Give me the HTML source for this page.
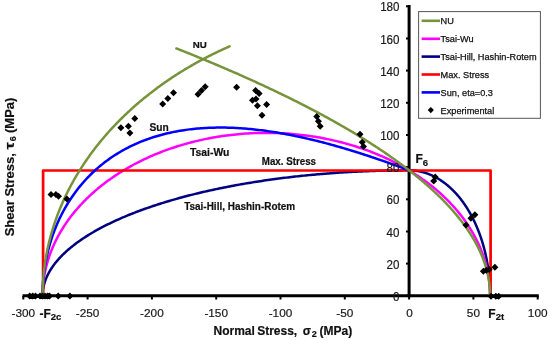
<!DOCTYPE html>
<html><head><meta charset="utf-8"><style>
html,body{margin:0;padding:0;background:#fff;}
body{width:550px;height:340px;overflow:hidden;}
svg{display:block;}
text{font-family:"Liberation Sans",Arial,sans-serif;}
</style></head><body>
<svg width="550" height="340" viewBox="0 0 550 340">
<rect width="550" height="340" fill="#fff"/>
<g stroke="#000" stroke-width="3" fill="none">
<line x1="409.1" y1="5" x2="409.1" y2="297.3"/>
<line x1="22.5" y1="295.8" x2="538.8" y2="295.8"/>
</g>
<g stroke="#000" stroke-width="2"><line x1="406" y1="295.8" x2="409" y2="295.8"/><line x1="406" y1="263.6" x2="409" y2="263.6"/><line x1="406" y1="231.5" x2="409" y2="231.5"/><line x1="406" y1="199.3" x2="409" y2="199.3"/><line x1="406" y1="167.1" x2="409" y2="167.1"/><line x1="406" y1="135.0" x2="409" y2="135.0"/><line x1="406" y1="102.8" x2="409" y2="102.8"/><line x1="406" y1="70.6" x2="409" y2="70.6"/><line x1="406" y1="38.5" x2="409" y2="38.5"/><line x1="406" y1="6.3" x2="409" y2="6.3"/><line x1="23.3" y1="296" x2="23.3" y2="299.5"/><line x1="87.6" y1="296" x2="87.6" y2="299.5"/><line x1="151.9" y1="296" x2="151.9" y2="299.5"/><line x1="216.2" y1="296" x2="216.2" y2="299.5"/><line x1="280.5" y1="296" x2="280.5" y2="299.5"/><line x1="344.8" y1="296" x2="344.8" y2="299.5"/><line x1="409.1" y1="296" x2="409.1" y2="299.5"/><line x1="473.4" y1="296" x2="473.4" y2="299.5"/><line x1="537.7" y1="296" x2="537.7" y2="299.5"/></g>
<g fill="none" stroke-linejoin="round" stroke-linecap="round">
<path d="M42.59,295.80 L42.60,294.87 L42.63,293.94 L42.68,293.01 L42.75,292.09 L42.84,291.16 L42.95,290.23 L43.08,289.30 L43.23,288.37 L43.40,287.45 L43.59,286.52 L43.80,285.60 L44.04,284.67 L44.29,283.75 L44.56,282.82 L44.85,281.90 L45.16,280.98 L45.49,280.06 L45.84,279.14 L46.21,278.22 L46.59,277.31 L47.00,276.39 L47.43,275.48 L47.88,274.56 L48.35,273.65 L48.83,272.74 L49.34,271.83 L49.87,270.93 L50.41,270.02 L50.98,269.12 L51.56,268.22 L52.16,267.32 L52.78,266.42 L53.42,265.52 L54.08,264.63 L54.76,263.74 L55.46,262.85 L56.17,261.96 L56.91,261.08 L57.66,260.20 L58.43,259.32 L59.22,258.44 L60.03,257.56 L60.86,256.69 L61.70,255.82 L62.56,254.95 L63.44,254.09 L64.34,253.23 L65.26,252.37 L66.19,251.51 L67.14,250.66 L68.11,249.81 L69.10,248.96 L70.10,248.12 L71.12,247.28 L72.15,246.44 L73.21,245.61 L74.28,244.77 L75.37,243.95 L76.47,243.12 L77.59,242.30 L78.72,241.49 L79.88,240.67 L81.05,239.86 L82.23,239.06 L83.43,238.25 L84.64,237.45 L85.88,236.66 L87.12,235.87 L88.38,235.08 L89.66,234.30 L90.95,233.52 L92.26,232.74 L93.58,231.97 L94.91,231.20 L96.26,230.44 L97.63,229.68 L99.01,228.93 L100.40,228.18 L101.80,227.43 L103.22,226.69 L104.66,225.95 L106.10,225.22 L107.56,224.49 L109.03,223.77 L110.52,223.05 L112.02,222.33 L113.53,221.62 L115.05,220.92 L116.58,220.22 L118.13,219.52 L119.69,218.83 L121.26,218.14 L122.84,217.46 L124.43,216.78 L126.04,216.11 L127.65,215.44 L129.28,214.78 L130.91,214.12 L132.56,213.47 L134.22,212.82 L135.88,212.18 L137.56,211.54 L139.25,210.91 L140.94,210.28 L142.65,209.66 L144.36,209.05 L146.09,208.43 L147.82,207.83 L149.56,207.23 L151.31,206.63 L153.07,206.04 L154.83,205.45 L156.60,204.87 L158.38,204.30 L160.17,203.73 L161.97,203.16 L163.77,202.60 L165.58,202.05 L167.39,201.50 L169.22,200.95 L171.04,200.42 L172.88,199.88 L174.72,199.36 L176.56,198.83 L178.42,198.32 L180.27,197.81 L182.13,197.30 L184.00,196.80 L185.87,196.31 L187.74,195.82 L189.62,195.33 L191.51,194.85 L193.39,194.38 L195.28,193.91 L197.18,193.45 L199.07,192.99 L200.97,192.54 L202.88,192.09 L204.78,191.65 L206.69,191.22 L208.60,190.79 L210.51,190.36 L212.42,189.94 L214.34,189.53 L216.25,189.12 L218.17,188.72 L220.09,188.32 L222.01,187.93 L223.93,187.54 L225.84,187.16 L227.76,186.78 L229.68,186.41 L231.60,186.05 L233.52,185.68 L235.44,185.33 L237.35,184.98 L239.27,184.63 L241.18,184.29 L243.09,183.96 L245.00,183.63 L246.91,183.30 L248.81,182.99 L250.72,182.67 L252.62,182.36 L254.51,182.06 L256.41,181.76 L258.30,181.46 L260.18,181.17 L262.07,180.89 L263.95,180.61 L265.82,180.34 L267.69,180.07 L269.56,179.80 L271.42,179.54 L273.27,179.28 L275.13,179.03 L276.97,178.79 L278.81,178.55 L280.65,178.31 L282.47,178.08 L284.30,177.85 L286.11,177.63 L287.92,177.41 L289.72,177.19 L291.52,176.98 L293.31,176.78 L295.09,176.58 L296.86,176.38 L298.62,176.19 L300.38,176.00 L302.13,175.81 L303.87,175.63 L305.60,175.46 L307.33,175.29 L309.04,175.12 L310.75,174.95 L312.44,174.79 L314.13,174.64 L315.81,174.48 L317.47,174.34 L319.13,174.19 L320.78,174.05 L322.41,173.91 L324.04,173.78 L325.65,173.65 L327.26,173.52 L328.85,173.40 L330.43,173.28 L332.00,173.16 L333.56,173.05 L335.11,172.94 L336.64,172.83 L338.16,172.72 L339.67,172.62 L341.17,172.53 L342.66,172.43 L344.13,172.34 L345.59,172.25 L347.03,172.16 L348.47,172.08 L349.89,172.00 L351.29,171.92 L352.68,171.85 L354.06,171.78 L355.43,171.71 L356.78,171.64 L358.11,171.57 L359.43,171.51 L360.74,171.45 L362.03,171.39 L363.31,171.34 L364.57,171.28 L365.81,171.23 L367.05,171.18 L368.26,171.13 L369.46,171.09 L370.64,171.05 L371.81,171.00 L372.97,170.96 L374.10,170.93 L375.22,170.89 L376.32,170.86 L377.41,170.82 L378.48,170.79 L379.54,170.76 L380.57,170.73 L381.59,170.71 L382.59,170.68 L383.58,170.66 L384.55,170.63 L385.50,170.61 L386.43,170.59 L387.35,170.57 L388.25,170.56 L389.13,170.54 L389.99,170.52 L390.83,170.51 L391.66,170.49 L392.47,170.48 L393.26,170.47 L394.03,170.46 L394.78,170.45 L395.52,170.44 L396.23,170.43 L396.93,170.42 L397.61,170.41 L398.27,170.41 L398.91,170.40 L399.53,170.40 L400.13,170.39 L400.71,170.39 L401.28,170.38 L401.82,170.38 L402.35,170.37 L402.86,170.37 L403.34,170.37 L403.81,170.37 L404.26,170.36 L404.69,170.36 L405.10,170.36 L405.48,170.36 L405.85,170.36 L406.20,170.36 L406.53,170.36 L406.84,170.35 L407.13,170.35 L407.40,170.35 L407.65,170.35 L407.89,170.35 L408.10,170.35 L408.29,170.35 L408.46,170.35 L408.61,170.35 L408.74,170.35 L408.85,170.35 L408.94,170.35 L409.01,170.35 L409.06,170.35 L409.09,170.35 L409.10,170.35 L409.10,170.35 L409.11,170.35 L409.12,170.35 L409.14,170.35 L409.16,170.35 L409.18,170.35 L409.21,170.35 L409.24,170.35 L409.28,170.35 L409.32,170.35 L409.37,170.35 L409.42,170.35 L409.47,170.35 L409.53,170.35 L409.60,170.35 L409.67,170.36 L409.74,170.36 L409.82,170.36 L409.90,170.36 L409.99,170.36 L410.08,170.36 L410.17,170.36 L410.27,170.37 L410.37,170.37 L410.48,170.37 L410.59,170.37 L410.71,170.38 L410.83,170.38 L410.95,170.39 L411.08,170.39 L411.22,170.40 L411.35,170.40 L411.49,170.41 L411.64,170.41 L411.79,170.42 L411.94,170.43 L412.10,170.44 L412.27,170.45 L412.43,170.46 L412.60,170.47 L412.78,170.48 L412.96,170.49 L413.14,170.51 L413.32,170.52 L413.52,170.54 L413.71,170.56 L413.91,170.57 L414.11,170.59 L414.32,170.61 L414.53,170.63 L414.74,170.66 L414.96,170.68 L415.18,170.71 L415.41,170.73 L415.64,170.76 L415.87,170.79 L416.10,170.82 L416.35,170.86 L416.59,170.89 L416.84,170.93 L417.09,170.96 L417.34,171.00 L417.60,171.05 L417.86,171.09 L418.13,171.13 L418.40,171.18 L418.67,171.23 L418.94,171.28 L419.22,171.34 L419.50,171.39 L419.79,171.45 L420.08,171.51 L420.37,171.57 L420.67,171.64 L420.96,171.71 L421.27,171.78 L421.57,171.85 L421.88,171.92 L422.19,172.00 L422.50,172.08 L422.82,172.16 L423.14,172.25 L423.46,172.34 L423.79,172.43 L424.12,172.53 L424.45,172.62 L424.78,172.72 L425.12,172.83 L425.46,172.94 L425.80,173.05 L426.14,173.16 L426.49,173.28 L426.84,173.40 L427.19,173.52 L427.55,173.65 L427.90,173.78 L428.26,173.91 L428.62,174.05 L428.99,174.19 L429.35,174.34 L429.72,174.48 L430.09,174.64 L430.47,174.79 L430.84,174.95 L431.22,175.12 L431.60,175.29 L431.98,175.46 L432.36,175.63 L432.75,175.81 L433.13,176.00 L433.52,176.19 L433.91,176.38 L434.30,176.58 L434.70,176.78 L435.09,176.98 L435.49,177.19 L435.89,177.41 L436.29,177.63 L436.69,177.85 L437.09,178.08 L437.50,178.31 L437.90,178.55 L438.31,178.79 L438.72,179.03 L439.12,179.28 L439.53,179.54 L439.95,179.80 L440.36,180.07 L440.77,180.34 L441.19,180.61 L441.60,180.89 L442.02,181.17 L442.44,181.46 L442.85,181.76 L443.27,182.06 L443.69,182.36 L444.11,182.67 L444.53,182.99 L444.95,183.30 L445.37,183.63 L445.80,183.96 L446.22,184.29 L446.64,184.63 L447.07,184.98 L447.49,185.33 L447.91,185.68 L448.34,186.05 L448.76,186.41 L449.18,186.78 L449.61,187.16 L450.03,187.54 L450.46,187.93 L450.88,188.32 L451.31,188.72 L451.73,189.12 L452.15,189.53 L452.58,189.94 L453.00,190.36 L453.42,190.79 L453.84,191.22 L454.26,191.65 L454.69,192.09 L455.11,192.54 L455.53,192.99 L455.95,193.45 L456.36,193.91 L456.78,194.38 L457.20,194.85 L457.62,195.33 L458.03,195.82 L458.45,196.31 L458.86,196.80 L459.27,197.30 L459.68,197.81 L460.09,198.32 L460.50,198.83 L460.91,199.36 L461.32,199.88 L461.72,200.42 L462.13,200.95 L462.53,201.50 L462.93,202.05 L463.33,202.60 L463.73,203.16 L464.13,203.73 L464.52,204.30 L464.91,204.87 L465.31,205.45 L465.70,206.04 L466.09,206.63 L466.47,207.23 L466.86,207.83 L467.24,208.43 L467.62,209.05 L468.00,209.66 L468.38,210.28 L468.75,210.91 L469.12,211.54 L469.50,212.18 L469.86,212.82 L470.23,213.47 L470.59,214.12 L470.96,214.78 L471.31,215.44 L471.67,216.11 L472.03,216.78 L472.38,217.46 L472.73,218.14 L473.08,218.83 L473.42,219.52 L473.76,220.22 L474.10,220.92 L474.44,221.62 L474.77,222.33 L475.10,223.05 L475.43,223.77 L475.76,224.49 L476.08,225.22 L476.40,225.95 L476.71,226.69 L477.03,227.43 L477.34,228.18 L477.65,228.93 L477.95,229.68 L478.25,230.44 L478.55,231.20 L478.85,231.97 L479.14,232.74 L479.43,233.52 L479.71,234.30 L480.00,235.08 L480.27,235.87 L480.55,236.66 L480.82,237.45 L481.09,238.25 L481.36,239.06 L481.62,239.86 L481.88,240.67 L482.13,241.49 L482.38,242.30 L482.63,243.12 L482.87,243.95 L483.11,244.77 L483.35,245.61 L483.58,246.44 L483.81,247.28 L484.04,248.12 L484.26,248.96 L484.48,249.81 L484.69,250.66 L484.90,251.51 L485.11,252.37 L485.31,253.23 L485.51,254.09 L485.70,254.95 L485.89,255.82 L486.08,256.69 L486.26,257.56 L486.44,258.44 L486.62,259.32 L486.79,260.20 L486.95,261.08 L487.12,261.96 L487.27,262.85 L487.43,263.74 L487.58,264.63 L487.72,265.52 L487.86,266.42 L488.00,267.32 L488.14,268.22 L488.26,269.12 L488.39,270.02 L488.51,270.93 L488.63,271.83 L488.74,272.74 L488.85,273.65 L488.95,274.56 L489.05,275.48 L489.14,276.39 L489.23,277.31 L489.32,278.22 L489.40,279.14 L489.48,280.06 L489.55,280.98 L489.62,281.90 L489.68,282.82 L489.74,283.75 L489.80,284.67 L489.85,285.60 L489.90,286.52 L489.94,287.45 L489.98,288.37 L490.01,289.30 L490.04,290.23 L490.06,291.16 L490.08,292.09 L490.10,293.01 L490.11,293.94 L490.12,294.87 L490.12,295.80" stroke="#000080" stroke-width="2.5"/>
<path d="M42.59,294.87 L42.61,293.86 L42.64,292.26 L42.70,290.60 L42.79,288.92 L42.90,287.22 L43.04,285.53 L43.19,283.83 L43.38,282.14 L43.59,280.44 L43.82,278.75 L44.08,277.05 L44.36,275.36 L44.66,273.67 L44.99,271.99 L45.35,270.30 L45.73,268.62 L46.13,266.94 L46.56,265.26 L47.01,263.59 L47.48,261.92 L47.98,260.25 L48.51,258.59 L49.05,256.93 L49.62,255.28 L50.22,253.63 L50.84,251.98 L51.48,250.34 L52.14,248.71 L52.83,247.08 L53.55,245.45 L54.28,243.83 L55.04,242.22 L55.82,240.61 L56.63,239.01 L57.46,237.42 L58.31,235.83 L59.18,234.24 L60.08,232.67 L61.00,231.10 L61.94,229.54 L62.90,227.98 L63.89,226.44 L64.90,224.90 L65.93,223.36 L66.98,221.84 L68.06,220.32 L69.15,218.82 L70.27,217.32 L71.41,215.83 L72.57,214.35 L73.75,212.87 L74.96,211.41 L76.18,209.96 L77.43,208.51 L78.69,207.08 L79.98,205.65 L81.29,204.23 L82.61,202.83 L83.96,201.43 L85.33,200.05 L86.72,198.67 L88.12,197.31 L89.55,195.96 L90.99,194.61 L92.46,193.28 L93.94,191.96 L95.45,190.65 L96.97,189.36 L98.51,188.07 L100.07,186.80 L101.65,185.54 L103.24,184.29 L104.85,183.05 L106.48,181.82 L108.13,180.61 L109.80,179.41 L111.48,178.22 L113.18,177.05 L114.90,175.89 L116.63,174.74 L118.38,173.61 L120.14,172.48 L121.93,171.38 L123.72,170.28 L125.54,169.20 L127.37,168.14 L129.21,167.08 L131.07,166.04 L132.94,165.02 L134.83,164.01 L136.73,163.02 L138.65,162.03 L140.58,161.07 L142.53,160.12 L144.49,159.18 L146.46,158.26 L148.44,157.35 L150.44,156.46 L152.45,155.58 L154.47,154.72 L156.51,153.88 L158.56,153.05 L160.62,152.24 L162.69,151.44 L164.77,150.66 L166.86,149.89 L168.97,149.14 L171.08,148.40 L173.21,147.69 L175.34,146.98 L177.49,146.30 L179.64,145.63 L181.81,144.98 L183.98,144.34 L186.17,143.72 L188.36,143.12 L190.56,142.53 L192.77,141.96 L194.98,141.41 L197.21,140.87 L199.44,140.35 L201.68,139.85 L203.93,139.37 L206.18,138.90 L208.44,138.45 L210.71,138.02 L212.98,137.60 L215.26,137.20 L217.54,136.82 L219.83,136.46 L222.13,136.11 L224.43,135.79 L226.73,135.48 L229.04,135.18 L231.35,134.91 L233.67,134.65 L235.99,134.41 L238.31,134.19 L240.64,133.98 L242.97,133.79 L245.30,133.62 L247.63,133.47 L249.97,133.34 L252.31,133.22 L254.64,133.12 L256.99,133.04 L259.33,132.98 L261.67,132.94 L264.01,132.91 L266.36,132.90 L268.70,132.91 L271.04,132.94 L273.38,132.98 L275.73,133.04 L278.07,133.12 L280.41,133.22 L282.74,133.34 L285.08,133.47 L287.41,133.62 L289.74,133.79 L292.07,133.98 L294.40,134.19 L296.72,134.41 L299.04,134.65 L301.36,134.91 L303.67,135.18 L305.98,135.48 L308.28,135.79 L310.58,136.12 L312.88,136.46 L315.17,136.82 L317.45,137.21 L319.73,137.60 L322.00,138.02 L324.27,138.45 L326.53,138.90 L328.78,139.37 L331.03,139.85 L333.27,140.36 L335.50,140.87 L337.73,141.41 L339.94,141.96 L342.15,142.53 L344.35,143.12 L346.54,143.72 L348.73,144.34 L350.90,144.98 L353.07,145.63 L355.22,146.30 L357.37,146.98 L359.50,147.69 L361.63,148.40 L363.74,149.14 L365.85,149.89 L367.94,150.66 L370.02,151.44 L372.09,152.24 L374.15,153.05 L376.20,153.88 L378.24,154.73 L380.26,155.59 L382.27,156.46 L384.27,157.35 L386.25,158.26 L388.22,159.18 L390.18,160.12 L392.13,161.07 L394.06,162.04 L395.98,163.02 L397.88,164.01 L399.77,165.02 L401.64,166.05 L403.50,167.08 L405.34,168.14 L407.17,169.20 L408.99,170.28 L410.78,171.38 L412.57,172.49 L414.33,173.61 L416.08,174.74 L417.81,175.89 L419.53,177.05 L421.23,178.23 L422.91,179.41 L424.58,180.61 L426.23,181.83 L427.86,183.05 L429.47,184.29 L431.07,185.54 L432.64,186.80 L434.20,188.07 L435.74,189.36 L437.26,190.66 L438.77,191.96 L440.25,193.28 L441.72,194.62 L443.16,195.96 L444.59,197.31 L446.00,198.68 L447.38,200.05 L448.75,201.44 L450.10,202.83 L451.42,204.24 L452.73,205.65 L454.02,207.08 L455.28,208.51 L456.53,209.96 L457.75,211.41 L458.96,212.88 L460.14,214.35 L461.30,215.83 L462.44,217.32 L463.56,218.82 L464.65,220.33 L465.73,221.84 L466.78,223.37 L467.81,224.90 L468.82,226.44 L469.81,227.99 L470.77,229.54 L471.71,231.10 L472.63,232.67 L473.53,234.25 L474.40,235.83 L475.26,237.42 L476.08,239.02 L476.89,240.62 L477.67,242.23 L478.43,243.84 L479.17,245.46 L479.88,247.08 L480.57,248.72 L481.23,250.35 L481.87,251.99 L482.49,253.64 L483.09,255.29 L483.66,256.94 L484.21,258.60 L484.73,260.26 L485.23,261.93 L485.70,263.60 L486.15,265.27 L486.58,266.95 L486.98,268.63 L487.36,270.31 L487.72,272.00 L488.05,273.69 L488.35,275.38 L488.63,277.07 L488.89,278.77 L489.12,280.46 L489.33,282.16 L489.52,283.86 L489.68,285.56 L489.81,287.26 L489.92,288.96 L490.01,290.66 L490.07,292.36 L490.10,294.04 L490.12,295.36" stroke="#FF00FF" stroke-width="2.5"/>
<path d="M43.1,296 L43.1,170.5 L490.6,170.5 L490.6,296" stroke="#FF0000" stroke-width="2.7" stroke-linecap="butt"/>
<path d="M42.59,295.80 L42.60,293.85 L42.63,291.91 L42.68,289.96 L42.75,288.01 L42.84,286.07 L42.95,284.13 L43.08,282.19 L43.23,280.25 L43.40,278.31 L43.59,276.38 L43.80,274.45 L44.04,272.52 L44.29,270.60 L44.56,268.68 L44.85,266.76 L45.16,264.85 L45.49,262.94 L45.84,261.04 L46.21,259.15 L46.59,257.26 L47.00,255.37 L47.43,253.49 L47.88,251.62 L48.35,249.76 L48.83,247.90 L49.34,246.05 L49.87,244.20 L50.41,242.37 L50.98,240.54 L51.56,238.72 L52.16,236.91 L52.78,235.11 L53.42,233.32 L54.08,231.54 L54.76,229.76 L55.46,228.00 L56.17,226.25 L56.91,224.50 L57.66,222.77 L58.43,221.05 L59.22,219.34 L60.03,217.64 L60.86,215.96 L61.70,214.28 L62.56,212.62 L63.44,210.97 L64.34,209.33 L65.26,207.70 L66.19,206.09 L67.14,204.49 L68.11,202.91 L69.10,201.33 L70.10,199.77 L71.12,198.23 L72.15,196.70 L73.21,195.18 L74.28,193.68 L75.37,192.19 L76.47,190.72 L77.59,189.26 L78.72,187.82 L79.88,186.39 L81.05,184.98 L82.23,183.58 L83.43,182.20 L84.64,180.84 L85.88,179.49 L87.12,178.16 L88.38,176.84 L89.66,175.54 L90.95,174.26 L92.26,172.99 L93.58,171.74 L94.91,170.51 L96.26,169.29 L97.63,168.09 L99.01,166.91 L100.40,165.74 L101.80,164.60 L103.22,163.47 L104.66,162.35 L106.10,161.26 L107.56,160.18 L109.03,159.12 L110.52,158.08 L112.02,157.06 L113.53,156.05 L115.05,155.06 L116.58,154.09 L118.13,153.14 L119.69,152.21 L121.26,151.29 L122.84,150.39 L124.43,149.51 L126.04,148.65 L127.65,147.80 L129.28,146.98 L130.91,146.17 L132.56,145.38 L134.22,144.61 L135.88,143.85 L137.56,143.12 L139.25,142.40 L140.94,141.70 L142.65,141.02 L144.36,140.36 L146.09,139.71 L147.82,139.08 L149.56,138.47 L151.31,137.88 L153.07,137.30 L154.83,136.75 L156.60,136.20 L158.38,135.68 L160.17,135.18 L161.97,134.69 L163.77,134.22 L165.58,133.77 L167.39,133.33 L169.22,132.91 L171.04,132.51 L172.88,132.12 L174.72,131.75 L176.56,131.40 L178.42,131.06 L180.27,130.74 L182.13,130.44 L184.00,130.15 L185.87,129.88 L187.74,129.62 L189.62,129.38 L191.51,129.16 L193.39,128.95 L195.28,128.76 L197.18,128.58 L199.07,128.41 L200.97,128.27 L202.88,128.13 L204.78,128.01 L206.69,127.91 L208.60,127.82 L210.51,127.74 L212.42,127.68 L214.34,127.63 L216.25,127.59 L218.17,127.57 L220.09,127.56 L222.01,127.57 L223.93,127.59 L225.84,127.62 L227.76,127.66 L229.68,127.71 L231.60,127.78 L233.52,127.86 L235.44,127.95 L237.35,128.05 L239.27,128.17 L241.18,128.29 L243.09,128.43 L245.00,128.58 L246.91,128.74 L248.81,128.90 L250.72,129.08 L252.62,129.27 L254.51,129.47 L256.41,129.68 L258.30,129.90 L260.18,130.12 L262.07,130.36 L263.95,130.60 L265.82,130.86 L267.69,131.12 L269.56,131.39 L271.42,131.67 L273.27,131.95 L275.13,132.25 L276.97,132.55 L278.81,132.86 L280.65,133.17 L282.47,133.49 L284.30,133.82 L286.11,134.16 L287.92,134.50 L289.72,134.85 L291.52,135.20 L293.31,135.56 L295.09,135.92 L296.86,136.29 L298.62,136.67 L300.38,137.04 L302.13,137.43 L303.87,137.82 L305.60,138.21 L307.33,138.60 L309.04,139.00 L310.75,139.41 L312.44,139.81 L314.13,140.22 L315.81,140.63 L317.47,141.05 L319.13,141.47 L320.78,141.89 L322.41,142.31 L324.04,142.74 L325.65,143.16 L327.26,143.59 L328.85,144.02 L330.43,144.45 L332.00,144.88 L333.56,145.31 L335.11,145.75 L336.64,146.18 L338.16,146.61 L339.67,147.05 L341.17,147.48 L342.66,147.92 L344.13,148.35 L345.59,148.78 L347.03,149.21 L348.47,149.65 L349.89,150.08 L351.29,150.51 L352.68,150.93 L354.06,151.36 L355.43,151.78 L356.78,152.21 L358.11,152.63 L359.43,153.05 L360.74,153.46 L362.03,153.88 L363.31,154.29 L364.57,154.70 L365.81,155.10 L367.05,155.51 L368.26,155.91 L369.46,156.30 L370.64,156.70 L371.81,157.09 L372.97,157.47 L374.10,157.85 L375.22,158.23 L376.32,158.61 L377.41,158.98 L378.48,159.34 L379.54,159.71 L380.57,160.06 L381.59,160.41 L382.59,160.76 L383.58,161.11 L384.55,161.44 L385.50,161.78 L386.43,162.10 L387.35,162.43 L388.25,162.74 L389.13,163.06 L389.99,163.36 L390.83,163.66 L391.66,163.96 L392.47,164.25 L393.26,164.53 L394.03,164.81 L394.78,165.08 L395.52,165.35 L396.23,165.60 L396.93,165.86 L397.61,166.10 L398.27,166.34 L398.91,166.58 L399.53,166.81 L400.13,167.03 L400.71,167.24 L401.28,167.45 L401.82,167.65 L402.35,167.84 L402.86,168.03 L403.34,168.21 L403.81,168.38 L404.26,168.55 L404.69,168.71 L405.10,168.86 L405.48,169.00 L405.85,169.14 L406.20,169.27 L406.53,169.39 L406.84,169.51 L407.13,169.62 L407.40,169.72 L407.65,169.81 L407.89,169.90 L408.10,169.98 L408.29,170.05 L408.46,170.11 L408.61,170.17 L408.74,170.22 L408.85,170.26 L408.94,170.29 L409.01,170.32 L409.06,170.34 L409.09,170.35 L409.10,170.35" stroke="#0000FF" stroke-width="2.5"/>
<path d="M42.59,295.80 L42.60,294.29 L42.61,292.77 L42.64,291.26 L42.67,289.75 L42.72,288.24 L42.77,286.72 L42.84,285.21 L42.92,283.70 L43.00,282.19 L43.10,280.68 L43.21,279.17 L43.33,277.66 L43.46,276.15 L43.59,274.65 L43.74,273.14 L43.90,271.64 L44.07,270.13 L44.25,268.63 L44.43,267.13 L44.63,265.63 L44.84,264.13 L45.06,262.64 L45.29,261.14 L45.53,259.65 L45.78,258.16 L46.03,256.67 L46.30,255.18 L46.58,253.70 L46.87,252.21 L47.17,250.73 L47.47,249.25 L47.79,247.77 L48.12,246.30 L48.45,244.83 L48.80,243.36 L49.16,241.89 L49.52,240.42 L49.90,238.96 L50.28,237.50 L50.67,236.04 L51.08,234.59 L51.49,233.14 L51.91,231.69 L52.34,230.24 L52.78,228.80 L53.23,227.36 L53.69,225.93 L54.15,224.49 L54.63,223.07 L55.12,221.64 L55.61,220.22 L56.11,218.80 L56.62,217.38 L57.14,215.97 L57.67,214.56 L58.21,213.16 L58.76,211.76 L59.31,210.36 L59.87,208.97 L60.45,207.58 L61.03,206.20 L61.61,204.82 L62.21,203.44 L62.81,202.07 L63.43,200.71 L64.05,199.34 L64.67,197.99 L65.31,196.63 L65.95,195.28 L66.60,193.94 L67.26,192.60 L67.93,191.26 L68.60,189.93 L69.28,188.61 L69.97,187.28 L70.67,185.97 L71.37,184.66 L72.08,183.35 L72.80,182.05 L73.52,180.75 L74.25,179.46 L74.99,178.18 L75.74,176.90 L76.49,175.62 L77.25,174.35 L78.01,173.09 L78.78,171.83 L79.56,170.58 L80.34,169.33 L81.13,168.09 L81.92,166.85 L82.72,165.62 L83.53,164.39 L84.34,163.17 L85.16,161.96 L85.99,160.75 L86.82,159.55 L87.65,158.35 L88.49,157.16 L89.34,155.98 L90.19,154.80 L91.04,153.63 L91.90,152.46 L92.77,151.30 L93.64,150.14 L94.51,149.00 L95.39,147.85 L96.28,146.72 L97.16,145.59 L98.06,144.46 L98.95,143.35 L99.85,142.24 L100.76,141.13 L101.67,140.03 L102.58,138.94 L103.49,137.86 L104.41,136.78 L105.34,135.71 L106.26,134.64 L107.19,133.58 L108.12,132.53 L109.06,131.48 L110.00,130.44 L110.94,129.41 L111.88,128.38 L112.83,127.36 L113.78,126.35 L114.73,125.34 L115.69,124.34 L116.64,123.35 L117.60,122.36 L118.56,121.38 L119.53,120.41 L120.49,119.44 L121.46,118.49 L122.42,117.53 L123.39,116.59 L124.36,115.65 L125.34,114.72 L126.31,113.79 L127.28,112.87 L128.26,111.96 L129.23,111.06 L130.21,110.16 L131.19,109.27 L132.17,108.38 L133.15,107.50 L134.12,106.63 L135.10,105.77 L136.08,104.91 L137.06,104.06 L138.04,103.22 L139.02,102.38 L140.00,101.56 L140.98,100.73 L141.95,99.92 L142.93,99.11 L143.91,98.31 L144.88,97.51 L145.85,96.72 L146.83,95.94 L147.80,95.17 L148.77,94.40 L149.74,93.64 L150.71,92.89 L151.67,92.14 L152.64,91.40 L153.60,90.67 L154.56,89.94 L155.52,89.22 L156.48,88.51 L157.43,87.80 L158.38,87.10 L159.33,86.41 L160.28,85.72 L161.22,85.04 L162.17,84.37 L163.10,83.70 L164.04,83.05 L164.97,82.39 L165.90,81.75 L166.83,81.11 L167.75,80.48 L168.67,79.85 L169.59,79.23 L170.50,78.62 L171.41,78.01 L172.31,77.41 L173.21,76.82 L174.11,76.23 L175.00,75.65 L175.89,75.08 L176.77,74.51 L177.65,73.95 L178.53,73.40 L179.40,72.85 L180.26,72.31 L181.12,71.77 L181.98,71.24 L182.83,70.72 L183.67,70.20 L184.51,69.69 L185.35,69.19 L186.18,68.69 L187.00,68.20 L187.82,67.72 L188.63,67.24 L189.44,66.76 L190.24,66.30 L191.04,65.84 L191.82,65.38 L192.61,64.93 L193.38,64.49 L194.15,64.05 L194.92,63.62 L195.68,63.20 L196.43,62.78 L197.17,62.37 L197.91,61.96 L198.64,61.56 L199.36,61.16 L200.08,60.77 L200.79,60.39 L201.50,60.01 L202.19,59.64 L202.88,59.27 L203.56,58.91 L204.24,58.55 L204.90,58.20 L205.56,57.86 L206.21,57.52 L206.86,57.19 L207.49,56.86 L208.12,56.54 L208.74,56.22 L209.35,55.91 L209.96,55.60 L210.55,55.30 L211.14,55.01 L211.72,54.72 L212.29,54.43 L212.85,54.15 L213.41,53.88 L213.95,53.61 L214.49,53.35 L215.02,53.09 L215.54,52.84 L216.05,52.59 L216.55,52.35 L217.05,52.11 L217.53,51.88 L218.01,51.65 L218.48,51.43 L218.94,51.21 L219.38,51.00 L219.82,50.79 L220.25,50.59 L220.68,50.39 L221.09,50.20 L221.49,50.01 L221.89,49.83 L222.27,49.65 L222.64,49.48 L223.01,49.31 L223.36,49.14 L223.71,48.99 L224.05,48.83 L224.37,48.68 L224.69,48.54 L225.00,48.40 L225.30,48.26 L225.58,48.13 L225.86,48.01 L226.13,47.89 L226.39,47.77 L226.64,47.66 L226.88,47.55 L227.10,47.45 L227.32,47.35 L227.53,47.26 L227.73,47.17 L227.92,47.09 L228.10,47.01 L228.27,46.93 L228.42,46.86 L228.57,46.80 L228.71,46.74 L228.84,46.68 L228.95,46.63 L229.06,46.58 L229.16,46.54 L229.25,46.50 L229.32,46.47 L229.39,46.44 L229.45,46.41 L229.49,46.39 L229.53,46.38 L229.55,46.37 L229.57,46.36 L229.57,46.36" stroke="#77933C" stroke-width="2.5"/>
<path d="M176.33,48.39 L176.34,48.39 L176.36,48.40 L176.39,48.41 L176.44,48.43 L176.49,48.45 L176.56,48.48 L176.65,48.51 L176.74,48.55 L176.85,48.59 L176.97,48.64 L177.11,48.69 L177.25,48.75 L177.41,48.82 L177.58,48.88 L177.77,48.96 L177.96,49.03 L178.17,49.12 L178.40,49.21 L178.63,49.30 L178.88,49.40 L179.14,49.50 L179.41,49.61 L179.69,49.72 L179.99,49.84 L180.30,49.96 L180.62,50.09 L180.96,50.22 L181.30,50.36 L181.66,50.50 L182.03,50.65 L182.41,50.80 L182.81,50.96 L183.21,51.12 L183.63,51.29 L184.06,51.46 L184.51,51.64 L184.96,51.82 L185.43,52.01 L185.91,52.20 L186.40,52.40 L186.90,52.60 L187.41,52.80 L187.94,53.01 L188.47,53.23 L189.02,53.45 L189.58,53.68 L190.15,53.91 L190.73,54.14 L191.32,54.38 L191.93,54.62 L192.54,54.87 L193.17,55.13 L193.80,55.39 L194.45,55.65 L195.11,55.92 L195.78,56.19 L196.46,56.47 L197.15,56.75 L197.85,57.04 L198.56,57.33 L199.28,57.62 L200.01,57.92 L200.76,58.23 L201.51,58.54 L202.27,58.85 L203.04,59.17 L203.82,59.49 L204.62,59.82 L205.42,60.15 L206.23,60.49 L207.05,60.83 L207.88,61.17 L208.72,61.52 L209.56,61.88 L210.42,62.24 L211.29,62.60 L212.16,62.97 L213.05,63.34 L213.94,63.71 L214.84,64.09 L215.75,64.48 L216.67,64.86 L217.60,65.26 L218.53,65.65 L219.47,66.05 L220.43,66.46 L221.39,66.87 L222.35,67.28 L223.33,67.70 L224.31,68.12 L225.30,68.54 L226.30,68.97 L227.30,69.41 L228.31,69.84 L229.33,70.28 L230.36,70.73 L231.39,71.18 L232.43,71.63 L233.47,72.08 L234.53,72.54 L235.58,73.01 L236.65,73.48 L237.72,73.95 L238.80,74.42 L239.88,74.90 L240.97,75.38 L242.06,75.87 L243.16,76.36 L244.27,76.85 L245.38,77.35 L246.50,77.84 L247.62,78.35 L248.74,78.85 L249.87,79.36 L251.01,79.88 L252.15,80.39 L253.29,80.91 L254.44,81.44 L255.60,81.96 L256.75,82.49 L257.91,83.02 L259.08,83.56 L260.25,84.10 L261.42,84.64 L262.59,85.18 L263.77,85.73 L264.96,86.28 L266.14,86.83 L267.33,87.39 L268.52,87.95 L269.71,88.51 L270.91,89.08 L272.11,89.64 L273.31,90.21 L274.51,90.78 L275.72,91.36 L276.92,91.94 L278.13,92.52 L279.34,93.10 L280.55,93.68 L281.76,94.27 L282.98,94.86 L284.19,95.45 L285.41,96.05 L286.63,96.64 L287.84,97.24 L289.06,97.84 L290.28,98.44 L291.50,99.05 L292.72,99.65 L293.94,100.26 L295.15,100.87 L296.37,101.48 L297.59,102.09 L298.81,102.71 L300.02,103.32 L301.24,103.94 L302.46,104.56 L303.67,105.18 L304.88,105.81 L306.09,106.43 L307.30,107.06 L308.51,107.68 L309.72,108.31 L310.92,108.94 L312.13,109.57 L313.33,110.20 L314.52,110.83 L315.72,111.46 L316.91,112.10 L318.11,112.73 L319.29,113.37 L320.48,114.00 L321.66,114.64 L322.84,115.27 L324.01,115.91 L325.19,116.55 L326.36,117.19 L327.52,117.83 L328.68,118.46 L329.84,119.10 L330.99,119.74 L332.14,120.38 L333.28,121.02 L334.42,121.66 L335.56,122.29 L336.69,122.93 L337.82,123.57 L338.94,124.21 L340.05,124.84 L341.17,125.48 L342.27,126.11 L343.37,126.75 L344.46,127.38 L345.55,128.01 L346.64,128.65 L347.71,129.28 L348.78,129.91 L349.85,130.54 L350.91,131.16 L351.96,131.79 L353.01,132.41 L354.05,133.03 L355.08,133.65 L356.10,134.27 L357.12,134.89 L358.13,135.51 L359.14,136.12 L360.14,136.73 L361.13,137.34 L362.11,137.95 L363.08,138.55 L364.05,139.15 L365.01,139.75 L365.96,140.35 L366.90,140.94 L367.84,141.53 L368.76,142.12 L369.68,142.71 L370.59,143.29 L371.49,143.87 L372.39,144.44 L373.27,145.01 L374.15,145.58 L375.01,146.14 L375.87,146.71 L376.72,147.26 L377.56,147.81 L378.39,148.36 L379.21,148.91 L380.02,149.45 L380.82,149.98 L381.61,150.52 L382.39,151.04 L383.16,151.56 L383.93,152.08 L384.68,152.59 L385.42,153.10 L386.15,153.60 L386.87,154.10 L387.58,154.59 L388.28,155.07 L388.98,155.55 L389.65,156.03 L390.32,156.50 L390.98,156.96 L391.63,157.42 L392.27,157.87 L392.89,158.31 L393.51,158.75 L394.11,159.18 L394.70,159.60 L395.29,160.02 L395.86,160.43 L396.42,160.84 L396.96,161.23 L397.50,161.62 L398.02,162.01 L398.54,162.38 L399.04,162.75 L399.53,163.11 L400.01,163.46 L400.47,163.81 L400.93,164.14 L401.37,164.47 L401.80,164.79 L402.22,165.10 L402.63,165.41 L403.02,165.71 L403.40,165.99 L403.77,166.27 L404.13,166.54 L404.48,166.80 L404.81,167.06 L405.13,167.30 L405.44,167.54 L405.74,167.76 L406.03,167.98 L406.30,168.19 L406.56,168.39 L406.80,168.58 L407.04,168.76 L407.26,168.93 L407.47,169.09 L407.67,169.24 L407.85,169.38 L408.02,169.52 L408.18,169.64 L408.33,169.75 L408.46,169.86 L408.58,169.95 L408.69,170.04 L408.79,170.11 L408.87,170.17 L408.94,170.23 L409.00,170.27 L409.04,170.31 L409.07,170.33 L409.09,170.35 L409.10,170.35 L409.10,170.35 L409.11,170.36 L409.12,170.37 L409.14,170.38 L409.16,170.40 L409.18,170.41 L409.21,170.44 L409.24,170.46 L409.28,170.49 L409.32,170.52 L409.37,170.56 L409.42,170.60 L409.47,170.64 L409.53,170.69 L409.60,170.74 L409.67,170.79 L409.74,170.85 L409.82,170.91 L409.90,170.97 L409.99,171.04 L410.08,171.11 L410.17,171.18 L410.27,171.26 L410.37,171.34 L410.48,171.43 L410.59,171.51 L410.71,171.60 L410.83,171.70 L410.95,171.80 L411.08,171.90 L411.22,172.00 L411.35,172.11 L411.49,172.22 L411.64,172.34 L411.79,172.45 L411.94,172.57 L412.10,172.70 L412.27,172.83 L412.43,172.96 L412.60,173.09 L412.78,173.23 L412.96,173.37 L413.14,173.52 L413.32,173.67 L413.52,173.82 L413.71,173.97 L413.91,174.13 L414.11,174.29 L414.32,174.46 L414.53,174.63 L414.74,174.80 L414.96,174.97 L415.18,175.15 L415.41,175.33 L415.64,175.52 L415.87,175.71 L416.10,175.90 L416.35,176.09 L416.59,176.29 L416.84,176.49 L417.09,176.70 L417.34,176.90 L417.60,177.12 L417.86,177.33 L418.13,177.55 L418.40,177.77 L418.67,177.99 L418.94,178.22 L419.22,178.45 L419.50,178.68 L419.79,178.92 L420.08,179.16 L420.37,179.41 L420.67,179.65 L420.96,179.90 L421.27,180.15 L421.57,180.41 L421.88,180.67 L422.19,180.93 L422.50,181.20 L422.82,181.47 L423.14,181.74 L423.46,182.01 L423.79,182.29 L424.12,182.57 L424.45,182.86 L424.78,183.14 L425.12,183.44 L425.46,183.73 L425.80,184.03 L426.14,184.33 L426.49,184.63 L426.84,184.93 L427.19,185.24 L427.55,185.55 L427.90,185.87 L428.26,186.19 L428.62,186.51 L428.99,186.83 L429.35,187.16 L429.72,187.49 L430.09,187.82 L430.47,188.16 L430.84,188.50 L431.22,188.84 L431.60,189.18 L431.98,189.53 L432.36,189.88 L432.75,190.23 L433.13,190.59 L433.52,190.95 L433.91,191.31 L434.30,191.68 L434.70,192.04 L435.09,192.42 L435.49,192.79 L435.89,193.17 L436.29,193.54 L436.69,193.93 L437.09,194.31 L437.50,194.70 L437.90,195.09 L438.31,195.48 L438.72,195.88 L439.12,196.28 L439.53,196.68 L439.95,197.08 L440.36,197.49 L440.77,197.90 L441.19,198.31 L441.60,198.72 L442.02,199.14 L442.44,199.56 L442.85,199.98 L443.27,200.41 L443.69,200.84 L444.11,201.27 L444.53,201.70 L444.95,202.14 L445.37,202.57 L445.80,203.02 L446.22,203.46 L446.64,203.90 L447.07,204.35 L447.49,204.80 L447.91,205.26 L448.34,205.71 L448.76,206.17 L449.18,206.63 L449.61,207.10 L450.03,207.56 L450.46,208.03 L450.88,208.50 L451.31,208.97 L451.73,209.45 L452.15,209.93 L452.58,210.41 L453.00,210.89 L453.42,211.37 L453.84,211.86 L454.26,212.35 L454.69,212.84 L455.11,213.33 L455.53,213.83 L455.95,214.33 L456.36,214.83 L456.78,215.33 L457.20,215.84 L457.62,216.34 L458.03,216.85 L458.45,217.36 L458.86,217.88 L459.27,218.39 L459.68,218.91 L460.09,219.43 L460.50,219.95 L460.91,220.48 L461.32,221.01 L461.72,221.53 L462.13,222.06 L462.53,222.60 L462.93,223.13 L463.33,223.67 L463.73,224.21 L464.13,224.75 L464.52,225.29 L464.91,225.83 L465.31,226.38 L465.70,226.93 L466.09,227.48 L466.47,228.03 L466.86,228.58 L467.24,229.14 L467.62,229.69 L468.00,230.25 L468.38,230.81 L468.75,231.38 L469.12,231.94 L469.50,232.51 L469.86,233.08 L470.23,233.65 L470.59,234.22 L470.96,234.79 L471.31,235.37 L471.67,235.94 L472.03,236.52 L472.38,237.10 L472.73,237.68 L473.08,238.26 L473.42,238.85 L473.76,239.43 L474.10,240.02 L474.44,240.61 L474.77,241.20 L475.10,241.79 L475.43,242.39 L475.76,242.98 L476.08,243.58 L476.40,244.18 L476.71,244.78 L477.03,245.38 L477.34,245.98 L477.65,246.58 L477.95,247.19 L478.25,247.79 L478.55,248.40 L478.85,249.01 L479.14,249.62 L479.43,250.23 L479.71,250.84 L480.00,251.46 L480.27,252.07 L480.55,252.69 L480.82,253.31 L481.09,253.92 L481.36,254.54 L481.62,255.17 L481.88,255.79 L482.13,256.41 L482.38,257.03 L482.63,257.66 L482.87,258.29 L483.11,258.91 L483.35,259.54 L483.58,260.17 L483.81,260.80 L484.04,261.43 L484.26,262.06 L484.48,262.70 L484.69,263.33 L484.90,263.97 L485.11,264.60 L485.31,265.24 L485.51,265.88 L485.70,266.51 L485.89,267.15 L486.08,267.79 L486.26,268.43 L486.44,269.08 L486.62,269.72 L486.79,270.36 L486.95,271.00 L487.12,271.65 L487.27,272.29 L487.43,272.94 L487.58,273.59 L487.72,274.23 L487.86,274.88 L488.00,275.53 L488.14,276.18 L488.26,276.82 L488.39,277.47 L488.51,278.12 L488.63,278.77 L488.74,279.43 L488.85,280.08 L488.95,280.73 L489.05,281.38 L489.14,282.03 L489.23,282.69 L489.32,283.34 L489.40,283.99 L489.48,284.65 L489.55,285.30 L489.62,285.96 L489.68,286.61 L489.74,287.27 L489.80,287.92 L489.85,288.58 L489.90,289.23 L489.94,289.89 L489.98,290.55 L490.01,291.20 L490.04,291.86 L490.06,292.52 L490.08,293.17 L490.10,293.83 L490.11,294.49 L490.12,295.14 L490.12,295.80" stroke="#77933C" stroke-width="2.5"/>
</g>
<path d="M29.7,292.5l3.5,3.5l-3.5,3.5l-3.5,-3.5z M32.7,292.5l3.5,3.5l-3.5,3.5l-3.5,-3.5z M35.5,292.5l3.5,3.5l-3.5,3.5l-3.5,-3.5z M40.0,292.5l3.5,3.5l-3.5,3.5l-3.5,-3.5z M42.5,292.5l3.5,3.5l-3.5,3.5l-3.5,-3.5z M45.0,292.5l3.5,3.5l-3.5,3.5l-3.5,-3.5z M47.5,292.5l3.5,3.5l-3.5,3.5l-3.5,-3.5z M49.5,292.5l3.5,3.5l-3.5,3.5l-3.5,-3.5z M58.2,292.5l3.5,3.5l-3.5,3.5l-3.5,-3.5z M69.9,292.5l3.5,3.5l-3.5,3.5l-3.5,-3.5z M51.0,191.1l3.5,3.5l-3.5,3.5l-3.5,-3.5z M55.9,191.1l3.5,3.5l-3.5,3.5l-3.5,-3.5z M58.5,192.8l3.5,3.5l-3.5,3.5l-3.5,-3.5z M66.9,195.5l3.5,3.5l-3.5,3.5l-3.5,-3.5z M120.9,124.2l3.5,3.5l-3.5,3.5l-3.5,-3.5z M128.4,122.7l3.5,3.5l-3.5,3.5l-3.5,-3.5z M129.9,129.5l3.5,3.5l-3.5,3.5l-3.5,-3.5z M134.8,115.1l3.5,3.5l-3.5,3.5l-3.5,-3.5z M162.7,100.5l3.5,3.5l-3.5,3.5l-3.5,-3.5z M167.8,95.0l3.5,3.5l-3.5,3.5l-3.5,-3.5z M173.5,89.3l3.5,3.5l-3.5,3.5l-3.5,-3.5z M198.0,90.8l3.5,3.5l-3.5,3.5l-3.5,-3.5z M201.5,86.9l3.5,3.5l-3.5,3.5l-3.5,-3.5z M205.2,83.2l3.5,3.5l-3.5,3.5l-3.5,-3.5z M236.6,83.7l3.5,3.5l-3.5,3.5l-3.5,-3.5z M255.6,87.0l3.5,3.5l-3.5,3.5l-3.5,-3.5z M259.1,90.1l3.5,3.5l-3.5,3.5l-3.5,-3.5z M252.5,96.7l3.5,3.5l-3.5,3.5l-3.5,-3.5z M256.0,95.4l3.5,3.5l-3.5,3.5l-3.5,-3.5z M257.4,102.3l3.5,3.5l-3.5,3.5l-3.5,-3.5z M266.6,101.1l3.5,3.5l-3.5,3.5l-3.5,-3.5z M262.0,111.8l3.5,3.5l-3.5,3.5l-3.5,-3.5z M316.7,113.0l3.5,3.5l-3.5,3.5l-3.5,-3.5z M318.4,117.8l3.5,3.5l-3.5,3.5l-3.5,-3.5z M320.2,122.7l3.5,3.5l-3.5,3.5l-3.5,-3.5z M360.0,130.8l3.5,3.5l-3.5,3.5l-3.5,-3.5z M362.2,138.7l3.5,3.5l-3.5,3.5l-3.5,-3.5z M363.5,143.1l3.5,3.5l-3.5,3.5l-3.5,-3.5z M435.2,173.4l3.5,3.5l-3.5,3.5l-3.5,-3.5z M433.7,177.4l3.5,3.5l-3.5,3.5l-3.5,-3.5z M470.9,214.7l3.5,3.5l-3.5,3.5l-3.5,-3.5z M474.9,211.2l3.5,3.5l-3.5,3.5l-3.5,-3.5z M466.0,221.6l3.5,3.5l-3.5,3.5l-3.5,-3.5z M483.4,267.7l3.5,3.5l-3.5,3.5l-3.5,-3.5z M486.3,266.8l3.5,3.5l-3.5,3.5l-3.5,-3.5z M489.1,265.9l3.5,3.5l-3.5,3.5l-3.5,-3.5z M494.9,263.7l3.5,3.5l-3.5,3.5l-3.5,-3.5z M491.0,292.8l3.5,3.5l-3.5,3.5l-3.5,-3.5z M495.8,292.8l3.5,3.5l-3.5,3.5l-3.5,-3.5z M498.7,292.8l3.5,3.5l-3.5,3.5l-3.5,-3.5z" fill="#000"/>
<g font-size="12.4" fill="#1a1a1a" stroke="#1a1a1a" stroke-width="0.2" text-anchor="end"><text x="399.5" y="300.9" textLength="6.45" lengthAdjust="spacingAndGlyphs">0</text><text x="399.5" y="268.7" textLength="12.90" lengthAdjust="spacingAndGlyphs">20</text><text x="399.5" y="236.6" textLength="12.90" lengthAdjust="spacingAndGlyphs">40</text><text x="399.5" y="204.4" textLength="12.90" lengthAdjust="spacingAndGlyphs">60</text><text x="399.5" y="172.2" textLength="12.90" lengthAdjust="spacingAndGlyphs">80</text><text x="399.5" y="140.1" textLength="19.35" lengthAdjust="spacingAndGlyphs">100</text><text x="399.5" y="107.9" textLength="19.35" lengthAdjust="spacingAndGlyphs">120</text><text x="399.5" y="75.7" textLength="19.35" lengthAdjust="spacingAndGlyphs">140</text><text x="399.5" y="43.6" textLength="19.35" lengthAdjust="spacingAndGlyphs">160</text><text x="399.5" y="11.4" textLength="19.35" lengthAdjust="spacingAndGlyphs">180</text></g>
<g font-size="11.8" fill="#1a1a1a" stroke="#1a1a1a" stroke-width="0.2"><text x="23.3" y="317.4" text-anchor="middle" textLength="23.61" lengthAdjust="spacingAndGlyphs">-300</text><text x="87.6" y="317.4" text-anchor="middle" textLength="23.61" lengthAdjust="spacingAndGlyphs">-250</text><text x="151.9" y="317.4" text-anchor="middle" textLength="23.61" lengthAdjust="spacingAndGlyphs">-200</text><text x="216.2" y="317.4" text-anchor="middle" textLength="23.61" lengthAdjust="spacingAndGlyphs">-150</text><text x="280.5" y="317.4" text-anchor="middle" textLength="23.61" lengthAdjust="spacingAndGlyphs">-100</text><text x="344.8" y="317.4" text-anchor="middle" textLength="17.05" lengthAdjust="spacingAndGlyphs">-50</text><text x="409.6" y="317.4" text-anchor="middle" textLength="6.56" lengthAdjust="spacingAndGlyphs">0</text><text x="473.4" y="317.4" text-anchor="middle" textLength="13.12" lengthAdjust="spacingAndGlyphs">50</text><text x="537.7" y="317.4" text-anchor="middle" textLength="19.68" lengthAdjust="spacingAndGlyphs">100</text></g>
<g font-weight="bold" font-size="10" fill="#111" stroke="#111" stroke-width="0.2">
<text x="192.7" y="48.1" font-size="9.4" lengthAdjust="spacingAndGlyphs" textLength="14.0">NU</text>
<text x="149.6" y="130.6" lengthAdjust="spacingAndGlyphs" textLength="19.2">Sun</text>
<text x="190.0" y="155.6" lengthAdjust="spacingAndGlyphs" textLength="39.4">Tsai-Wu</text>
<text x="261.8" y="164.7" lengthAdjust="spacingAndGlyphs" textLength="54.2">Max. Stress</text>
<text x="184.2" y="210.1" lengthAdjust="spacingAndGlyphs" textLength="111">Tsai-Hill, Hashin-Rotem</text>
</g>
<g font-weight="bold" fill="#111" stroke="#111" stroke-width="0.2">
<text x="415.5" y="163.4" font-size="12">F<tspan font-size="9.5" dy="2.5">6</tspan></text>
<text x="39.5" y="317.5" font-size="12">-F<tspan font-size="9.5" dy="2.5">2c</tspan></text>
<text x="488.3" y="317.5" font-size="12">F<tspan font-size="9.5" dy="2.5">2t</tspan></text>
<g font-size="12"><text x="213.5" y="334.8" word-spacing="-1">Normal Stress,</text>
<text x="302.8" y="334.8">σ</text>
<text x="311.8" y="336.7" font-size="9">2</text>
<text x="319.6" y="334.8">(MPa)</text></g>
<g font-size="13"><text transform="translate(14.2,236.3) rotate(-90)">Shear Stress,</text>
<text transform="translate(14.4,149.4) rotate(-90)" textLength="7.4" lengthAdjust="spacingAndGlyphs">τ</text>
<text transform="translate(16.4,141.3) rotate(-90)" font-size="9">6</text>
<text transform="translate(14.2,133) rotate(-90)">(MPa)</text></g>
</g>
<rect x="418.6" y="11.6" width="121.8" height="106.7" fill="#fff" stroke="#555" stroke-width="1"/>
<g stroke-width="2.6">
<line x1="421.6" y1="20.8" x2="440" y2="20.8" stroke="#77933C"/>
<line x1="421.6" y1="38.8" x2="440" y2="38.8" stroke="#FF00FF"/>
<line x1="421.6" y1="56.6" x2="440" y2="56.6" stroke="#000080"/>
<line x1="421.6" y1="74.5" x2="440" y2="74.5" stroke="#FF0000"/>
<line x1="421.6" y1="92.4" x2="440" y2="92.4" stroke="#0000FF"/>
</g>
<path d="M430.8,107.0 l3.1,3.1 l-3.1,3.1 l-3.1,-3.1z" fill="#000"/>
<g font-size="9.2" fill="#111" stroke="#111" stroke-width="0.25">
<text x="440.6" y="24.1">NU</text>
<text x="440.6" y="42.1">Tsai-Wu</text>
<text x="440.6" y="59.9">Tsai-Hill, Hashin-Rotem</text>
<text x="440.6" y="77.8">Max. Stress</text>
<text x="440.6" y="95.7">Sun, eta=0.3</text>
<text x="440.6" y="113.9">Experimental</text>
</g>
</svg>
</body></html>
